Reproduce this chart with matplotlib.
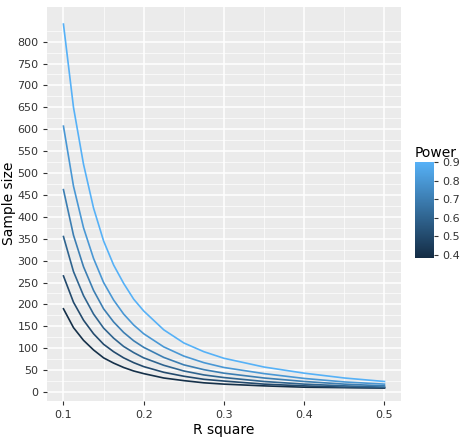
import matplotlib
matplotlib.use("Agg")
import matplotlib.pyplot as plt
import numpy as np
from matplotlib.colors import LinearSegmentedColormap, Normalize

r_square = [0.1,0.1125,0.125,0.1375,0.15,0.1625,0.175,0.1875,0.2,0.225,0.25,0.275,0.3,0.35,0.4,0.45,0.5]
powers = [0.4,0.5,0.6,0.7,0.8,0.9]
sizes = {
    0.9: [840,650,520,420,345,290,248,212,185,142,112,92,77,57,43,32,24],
    0.8: [607,470,375,305,250,210,178,153,133,103,82,67,56,42,31,23,18],
    0.7: [462,358,286,232,190,160,136,117,102,79,62,51,43,32,24,18,14],
    0.6: [355,275,220,178,146,123,104,90,78,61,48,39,33,24,18,14,11],
    0.5: [265,205,164,133,109,92,78,67,58,45,36,29,25,18,14,11,10],
    0.4: [190,147,118,96,78,66,56,48,42,32,26,21,18,14,11,10,9],
}

cmap = LinearSegmentedColormap.from_list("gg", ["#132B43", "#56B1F7"])
norm = Normalize(0.38, 0.9)

fig = plt.figure(figsize=(4.74, 4.38), dpi=100)
ax = fig.add_axes([0.1, 0.085, 0.745, 0.9])
ax.set_facecolor("#EBEBEB")
for s in ax.spines.values():
    s.set_visible(False)
for p in powers:
    ax.plot(r_square, sizes[p], color=cmap(norm(p)), lw=1.2)
ax.set_xlim(0.08, 0.52)
ax.set_ylim(-20, 880)
ax.set_xticks([0.1,0.2,0.3,0.4,0.5])
ax.set_xticklabels(["0.1","0.2","0.3","0.4","0.5"])
ax.set_yticks(np.arange(0, 801, 50))
ax.set_xticks([0.15,0.25,0.35,0.45], minor=True)
ax.set_yticks(np.arange(25, 826, 50), minor=True)
ax.grid(which="major", color="white", lw=1.1)
ax.grid(which="minor", color="white", lw=0.5)
ax.set_axisbelow(True)
ax.tick_params(which="major", colors="#333333", labelsize=8, length=3, color="#333333")
ax.tick_params(which="minor", length=0)
ax.set_xlabel("R square", fontsize=10, labelpad=2)
ax.set_ylabel("Sample size", fontsize=10, labelpad=1)

cax = fig.add_axes([0.875, 0.41, 0.04, 0.22])
sm = plt.cm.ScalarMappable(cmap=cmap, norm=norm)
cb = fig.colorbar(sm, cax=cax)
cb.set_ticks([0.4,0.5,0.6,0.7,0.8,0.9])
cb.outline.set_visible(False)
cb.ax.tick_params(labelsize=8, length=3, colors="#333333")
cax.set_title("Power", fontsize=10, loc="left", pad=4)
fig.savefig("out.png")
